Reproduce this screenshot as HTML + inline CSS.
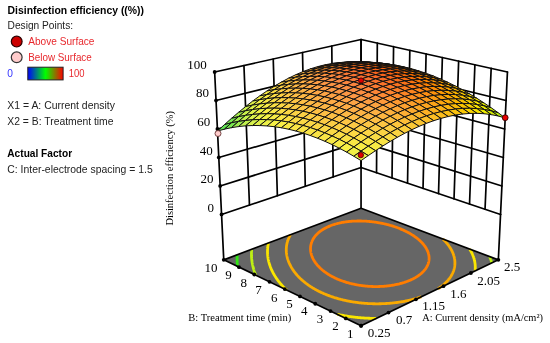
<!DOCTYPE html>
<html><head><meta charset="utf-8"><style>html,body{margin:0;padding:0;background:#fff;}svg{display:block;}</style></head>
<body><svg width="550" height="343" viewBox="0 0 550 343">
<rect width="550" height="343" fill="#fff"/>
<g stroke="#000" stroke-width="1.7" fill="none" stroke-linecap="round" stroke-linejoin="round"><line x1="221.55" y1="214.46" x2="214.65" y2="71.99"/><line x1="249.46" y1="205.06" x2="243.94" y2="65.49"/><line x1="277.37" y1="195.67" x2="273.23" y2="58.99"/><line x1="305.27" y1="186.27" x2="302.51" y2="52.49"/><line x1="333.16" y1="176.88" x2="331.78" y2="45.98"/><line x1="361.05" y1="167.48" x2="361.05" y2="39.48"/><line x1="500.54" y1="214.46" x2="507.44" y2="71.99"/><line x1="485.03" y1="209.24" x2="491.17" y2="68.38"/><line x1="469.53" y1="204.02" x2="474.90" y2="64.77"/><line x1="454.03" y1="198.80" x2="458.63" y2="61.16"/><line x1="438.53" y1="193.58" x2="442.36" y2="57.54"/><line x1="423.03" y1="188.36" x2="426.09" y2="53.93"/><line x1="407.53" y1="183.14" x2="409.83" y2="50.32"/><line x1="392.03" y1="177.92" x2="393.57" y2="46.70"/><line x1="376.54" y1="172.70" x2="377.31" y2="43.09"/><line x1="361.05" y1="167.48" x2="361.05" y2="39.48"/><polyline points="221.55,214.46 361.05,167.48 500.54,214.46"/><polyline points="220.17,185.97 361.05,141.88 501.92,185.97"/><polyline points="218.79,157.47 361.05,116.28 503.30,157.47"/><polyline points="217.41,128.98 361.05,90.68 504.68,128.98"/><polyline points="216.03,100.49 361.05,65.08 506.06,100.49"/><polyline points="214.65,71.99 361.05,39.48 507.44,71.99"/><line x1="223.75" y1="259.83" x2="221.55" y2="214.46"/><line x1="361.05" y1="208.25" x2="361.05" y2="167.48"/><line x1="498.34" y1="259.83" x2="500.54" y2="214.46"/></g>
<polygon points="223.75,259.83 361.05,208.25 498.34,259.83 361.05,325.73" fill="#666666"/>
<g fill="none" stroke-width="2.8" stroke-linecap="butt"><polyline points="237.13,254.81 237.11,255.11 237.10,255.40 237.09,255.70 237.08,255.99 237.07,256.28 237.07,256.58 237.06,256.87 237.06,257.16 237.06,257.46 237.06,257.75 237.06,258.04 237.06,258.33 237.07,258.62 237.07,258.91 237.08,259.20 237.09,259.49 237.09,259.78 237.10,260.07 237.12,260.36 237.13,260.65 237.14,260.94 237.16,261.24 237.18,261.55 237.20,261.85 237.22,262.16 237.24,262.46 237.27,262.77 237.29,263.08 237.32,263.39 237.35,263.70 237.38,264.01 237.41,264.32 237.45,264.63 237.48,264.94 237.52,265.22 237.55,265.50 237.59,265.79 237.62,266.07 237.66,266.35 237.69,266.53" stroke="#32e614"/><polyline points="491.82,262.97 491.75,262.71 491.68,262.44 491.61,262.18 491.54,261.92 491.46,261.65 491.37,261.32 491.27,260.99 491.16,260.65 491.08,260.38 490.99,260.12 490.91,259.87 490.82,259.62 490.72,259.31 490.60,258.97 490.47,258.63 490.37,258.37 490.28,258.12 490.18,257.87 490.07,257.60 489.93,257.26 489.79,256.91 489.68,256.65 489.64,256.57" stroke="#bef014"/><polyline points="251.71,249.34 251.68,249.63 251.65,249.93 251.63,250.23 251.60,250.52 251.58,250.82 251.56,251.11 251.54,251.39 251.53,251.67 251.51,251.95 251.50,252.23 251.49,252.52 251.48,252.80 251.47,253.09 251.47,253.37 251.46,253.66 251.46,253.95 251.46,254.24 251.46,254.53 251.46,254.82 251.47,255.11 251.47,255.40 251.48,255.70 251.49,255.99 251.50,256.29 251.51,256.58 251.53,256.88 251.54,257.18 251.56,257.48 251.58,257.76 251.60,258.05 251.62,258.33 251.65,258.61 251.67,258.89 251.70,259.18 251.73,259.46 251.76,259.74 251.79,260.02 251.82,260.30 251.86,260.58 251.89,260.86 251.93,261.17 251.98,261.48 252.02,261.80 252.07,262.12 252.12,262.43 252.17,262.75 252.23,263.07 252.28,263.36 252.33,263.63 252.38,263.91 252.43,264.18 252.49,264.46 252.54,264.73 252.60,265.02 252.68,265.35 252.75,265.69 252.82,266.02 252.90,266.35 252.97,266.64 253.04,266.91 253.11,267.18 253.17,267.45 253.24,267.72 253.33,268.04 253.42,268.38 253.52,268.73 253.62,269.06 253.69,269.33 253.77,269.60 253.86,269.87 253.94,270.13 254.04,270.47 254.16,270.83 254.27,271.18 254.37,271.46 254.46,271.72 254.55,271.99 254.64,272.26 254.77,272.62 254.90,272.98 255.02,273.30 255.12,273.56 255.22,273.82 255.32,274.09 255.47,274.46 255.62,274.83 255.74,275.13 255.77,275.21" stroke="#bef014"/><polyline points="337.14,314.26 337.91,314.43 338.39,314.53 339.35,314.74 339.83,314.84 340.74,315.02 341.30,315.13 341.88,315.24 342.78,315.41 343.28,315.50 344.08,315.64 344.80,315.77 345.30,315.86 346.18,316.00 346.85,316.11 347.37,316.19 348.21,316.32 348.94,316.43 349.47,316.51 350.17,316.61 351.07,316.73 351.61,316.80 352.15,316.87 352.99,316.98 353.79,317.07 354.35,317.14 354.90,317.20 355.70,317.29 356.58,317.38 357.16,317.44 357.73,317.50 358.30,317.55 359.15,317.63 359.99,317.70 360.62,317.75 361.21,317.80 361.80,317.84 362.45,317.89 363.26,317.95 364.06,318.00 364.81,318.04 365.42,318.08 366.04,318.11 366.65,318.14 367.28,318.17 367.93,318.20 368.69,318.23 369.43,318.26 370.18,318.28 370.91,318.30 371.64,318.32 372.37,318.33 373.05,318.35 373.71,318.36 374.37,318.36 375.04,318.37 375.72,318.37 376.39,318.37 376.39,318.37" stroke="#fae600"/><polyline points="475.04,271.03 475.08,270.71 475.11,270.39 475.14,270.08 475.17,269.76 475.20,269.45 475.22,269.14 475.23,268.84 475.25,268.53 475.26,268.23 475.27,267.93 475.27,267.63 475.27,267.33 475.27,267.03 475.27,266.74 475.26,266.44 475.25,266.15 475.24,265.86 475.22,265.57 475.20,265.28 475.18,265.00 475.16,264.71 475.13,264.43 475.10,264.15 475.07,263.86 475.03,263.59 475.00,263.30 474.95,262.99 474.91,262.67 474.85,262.36 474.80,262.05 474.74,261.73 474.68,261.41 474.62,261.13 474.57,260.86 474.51,260.59 474.45,260.33 474.38,260.07 474.32,259.80 474.23,259.48 474.15,259.15 474.06,258.83 473.96,258.51 473.89,258.25 473.81,257.99 473.73,257.74 473.64,257.49 473.54,257.17 473.42,256.84 473.30,256.50 473.21,256.24 473.11,255.99 473.02,255.74 472.92,255.48 472.78,255.14 472.64,254.79 472.52,254.52 472.42,254.28 472.31,254.04 472.18,253.75 472.02,253.40 471.87,253.09 471.76,252.85 471.64,252.61 471.51,252.34 471.33,251.99 471.17,251.68 471.05,251.45 470.92,251.22 470.76,250.91 470.55,250.55 470.42,250.30 470.28,250.07 470.13,249.81 469.91,249.44 469.75,249.17 469.69,249.07" stroke="#fae600"/><polyline points="268.49,243.03 268.42,243.34 268.36,243.62 268.31,243.88 268.25,244.14 268.20,244.40 268.15,244.66 268.10,244.92 268.06,245.18 268.01,245.48 267.96,245.78 267.91,246.08 267.87,246.38 267.83,246.68 267.79,246.98 267.76,247.28 267.72,247.57 267.69,247.86 267.67,248.14 267.64,248.41 267.62,248.69 267.60,248.96 267.58,249.24 267.57,249.52 267.55,249.80 267.54,250.08 267.53,250.36 267.52,250.65 267.51,250.93 267.51,251.22 267.51,251.50 267.51,251.79 267.51,252.08 267.51,252.37 267.52,252.66 267.53,252.95 267.54,253.25 267.55,253.54 267.57,253.84 267.58,254.13 267.60,254.43 267.63,254.73 267.65,255.03 267.68,255.33 267.70,255.63 267.73,255.90 267.76,256.18 267.80,256.46 267.83,256.74 267.87,257.01 267.90,257.29 267.94,257.57 267.99,257.84 268.03,258.11 268.08,258.43 268.14,258.74 268.19,259.06 268.25,259.38 268.32,259.70 268.38,260.02 268.44,260.29 268.50,260.56 268.56,260.83 268.62,261.10 268.68,261.37 268.76,261.67 268.84,262.00 268.93,262.33 269.02,262.67 269.10,262.97 269.17,263.23 269.25,263.50 269.33,263.76 269.41,264.03 269.52,264.38 269.63,264.72 269.74,265.07 269.83,265.33 269.92,265.59 270.01,265.85 270.11,266.13 270.24,266.49 270.37,266.85 270.48,267.15 270.58,267.40 270.68,267.66 270.79,267.94 270.94,268.30 271.10,268.67 271.21,268.94 271.32,269.19 271.43,269.45 271.59,269.80 271.76,270.18 271.89,270.46 272.01,270.71 272.13,270.96 272.31,271.33 272.50,271.71 272.62,271.96 272.75,272.21 272.91,272.51 273.12,272.91 273.27,273.20 273.40,273.44 273.56,273.72 273.79,274.13 273.95,274.42 274.09,274.67 274.26,274.96 274.51,275.38 274.67,275.64 274.82,275.88 275.03,276.23 275.27,276.60 275.42,276.84 275.58,277.09 275.87,277.53 276.05,277.80 276.21,278.04 276.47,278.42 276.70,278.75 276.86,278.98 277.11,279.33 277.36,279.69 277.54,279.92 277.79,280.27 278.06,280.62 278.23,280.85 278.51,281.22 278.77,281.55 278.95,281.78 279.28,282.20 279.50,282.47 279.69,282.70 280.06,283.15 280.25,283.38 280.54,283.72 280.83,284.06 281.03,284.28 281.43,284.73 281.63,284.95 281.95,285.31 282.24,285.62 282.46,285.86 282.86,286.28 283.06,286.50 283.49,286.94 283.70,287.16 284.11,287.58 284.35,287.82 284.71,288.17 285.01,288.46 285.34,288.79 285.68,289.11 286.01,289.41 286.37,289.75 286.71,290.06 286.71,290.06" stroke="#fae600"/><polyline points="290.49,234.77 290.31,235.07 290.18,235.29 290.05,235.51 289.88,235.83 289.69,236.17 289.57,236.41 289.45,236.64 289.33,236.87 289.17,237.20 289.01,237.54 288.89,237.79 288.79,238.02 288.69,238.26 288.56,238.55 288.42,238.88 288.29,239.20 288.20,239.44 288.11,239.68 288.02,239.92 287.92,240.18 287.81,240.51 287.71,240.83 287.60,241.14 287.53,241.39 287.45,241.64 287.38,241.89 287.31,242.14 287.24,242.41 287.16,242.72 287.08,243.03 287.01,243.34 286.94,243.65 286.88,243.92 286.83,244.18 286.78,244.44 286.73,244.70 286.68,244.96 286.64,245.23 286.60,245.49 286.56,245.77 286.52,246.07 286.48,246.37 286.45,246.67 286.42,246.96 286.39,247.26 286.37,247.55 286.35,247.84 286.33,248.14 286.31,248.43 286.30,248.72 286.29,249.01 286.29,249.29 286.28,249.58 286.28,249.87 286.28,250.15 286.29,250.44 286.30,250.72 286.31,251.00 286.32,251.28 286.34,251.56 286.35,251.84 286.37,252.12 286.40,252.40 286.42,252.68 286.45,252.96 286.48,253.23 286.51,253.51 286.55,253.78 286.59,254.07 286.64,254.38 286.68,254.69 286.74,255.00 286.79,255.32 286.85,255.63 286.91,255.95 286.97,256.22 287.03,256.49 287.09,256.75 287.15,257.02 287.22,257.28 287.29,257.57 287.37,257.90 287.47,258.23 287.56,258.57 287.64,258.86 287.72,259.12 287.80,259.38 287.89,259.64 287.98,259.93 288.10,260.27 288.22,260.62 288.33,260.92 288.42,261.18 288.52,261.43 288.62,261.69 288.76,262.04 288.91,262.40 289.03,262.70 289.14,262.95 289.25,263.20 289.38,263.50 289.55,263.87 289.70,264.19 289.82,264.44 289.94,264.68 290.10,265.01 290.30,265.39 290.44,265.66 290.57,265.91 290.71,266.17 290.93,266.57 291.10,266.88 291.24,267.12 291.39,267.37 291.63,267.78 291.81,268.07 291.95,268.31 292.14,268.61 292.40,269.02 292.55,269.26 292.71,269.49 292.97,269.88 293.18,270.19 293.34,270.42 293.58,270.76 293.84,271.12 294.00,271.35 294.23,271.66 294.52,272.04 294.69,272.26 294.94,272.58 295.22,272.94 295.40,273.17 295.70,273.54 295.95,273.84 296.14,274.07 296.52,274.51 296.71,274.73 296.97,275.03 297.30,275.39 297.49,275.61 297.89,276.05 298.10,276.27 298.42,276.60 298.72,276.92 298.94,277.15 299.35,277.56 299.56,277.77 300.00,278.20 300.21,278.41 300.66,278.83 300.88,279.04 301.33,279.46 301.56,279.66 302.02,280.08 302.25,280.28 302.72,280.70 302.96,280.90 303.44,281.31 303.68,281.51 304.17,281.91 304.47,282.15 304.92,282.51 305.41,282.89 305.68,283.11 306.20,283.50 306.46,283.69 306.98,284.08 307.51,284.47 307.78,284.66 308.32,285.04 308.87,285.43 309.15,285.61 309.70,285.99 310.27,286.36 310.55,286.55 311.12,286.92 311.71,287.29 312.26,287.63 312.59,287.83 313.18,288.19 313.79,288.55 314.40,288.90 314.77,289.11 315.33,289.43 315.95,289.77 316.59,290.12 317.23,290.46 317.88,290.80 318.53,291.13 319.19,291.46 319.86,291.79 320.54,292.12 321.22,292.44 321.91,292.76 322.61,293.08 323.32,293.39 324.03,293.70 324.75,294.01 325.48,294.31 326.21,294.61 326.95,294.91 327.70,295.20 328.13,295.36 328.85,295.63 329.62,295.92 330.39,296.20 331.16,296.47 331.57,296.61 332.37,296.88 333.18,297.15 333.59,297.28 334.40,297.55 335.23,297.80 335.65,297.93 336.49,298.18 337.34,298.43 337.77,298.55 338.63,298.79 339.11,298.93 339.94,299.15 340.67,299.34 341.27,299.49 342.14,299.71 342.62,299.83 343.53,300.04 344.00,300.15 344.86,300.35 345.40,300.46 346.14,300.62 346.82,300.77 347.36,300.88 348.26,301.06 348.75,301.15 349.70,301.33 350.22,301.43 350.81,301.53 351.72,301.69 352.23,301.78 352.95,301.89 353.76,302.02 354.28,302.10 355.00,302.21 355.85,302.33 356.38,302.40 356.95,302.48 357.90,302.60 358.53,302.68 359.08,302.75 359.75,302.82 360.65,302.92 361.30,302.99 361.86,303.05 362.43,303.10 363.27,303.18 364.11,303.25 364.74,303.30 365.32,303.35 365.91,303.39 366.59,303.44 367.39,303.49 368.18,303.54 368.93,303.58 369.54,303.61 370.17,303.64 370.79,303.66 371.42,303.69 372.06,303.71 372.75,303.73 373.49,303.75 374.21,303.76 374.93,303.77 375.64,303.78 376.35,303.78 377.04,303.79 377.74,303.78 378.42,303.78 379.10,303.77 379.77,303.76 380.44,303.75 381.11,303.73 381.76,303.71 382.41,303.69 383.06,303.67 383.72,303.64 384.47,303.60 385.22,303.56 385.99,303.52 386.76,303.48 387.44,303.43 388.05,303.39 388.66,303.34 389.25,303.30 389.95,303.24 390.77,303.17 391.60,303.09 392.19,303.03 392.76,302.97 393.33,302.91 394.18,302.82 395.02,302.72 395.58,302.65 396.13,302.58 396.89,302.49 397.77,302.37 398.31,302.29 398.84,302.21 399.75,302.08 400.43,301.97 400.95,301.89 401.76,301.75 402.49,301.63 403.00,301.54 403.87,301.38 404.51,301.26 405.01,301.16 405.99,300.97 406.48,300.87 407.28,300.70 407.93,300.56 408.49,300.44 409.35,300.24 409.82,300.13 410.75,299.91 411.21,299.80 412.12,299.57 412.57,299.45 413.47,299.22 413.95,299.09 414.80,298.85 415.54,298.64 416.10,298.48 416.95,298.22 417.38,298.09 418.22,297.83 419.05,297.57 419.46,297.43 420.28,297.16 421.08,296.88 421.43,296.76" stroke="#faaa00"/><polyline points="437.99,288.81 438.53,288.46 439.10,288.07 439.59,287.73 439.93,287.50 440.47,287.11 440.87,286.81 441.27,286.52 441.78,286.12 442.04,285.92 442.55,285.51 442.90,285.22 443.29,284.90 443.74,284.51 444.01,284.28 444.48,283.86 444.71,283.65 445.17,283.22 445.39,283.01 445.81,282.60 446.05,282.37 446.38,282.02 446.68,281.71 446.92,281.46 447.30,281.05 447.50,280.83 447.88,280.39 448.09,280.15 448.32,279.88 448.65,279.47 448.84,279.24 449.11,278.89 449.37,278.55 449.55,278.32 449.81,277.95 450.05,277.62 450.22,277.38 450.44,277.05 450.69,276.67 450.84,276.43 451.00,276.18 451.26,275.75 451.43,275.46 451.57,275.21 451.73,274.92 451.95,274.52 452.11,274.22 452.23,273.97 452.36,273.72 452.55,273.33 452.72,272.96 452.83,272.71 452.94,272.45 453.05,272.19 453.20,271.82 453.34,271.46 453.45,271.16 453.55,270.90 453.64,270.64 453.72,270.37 453.83,270.03 453.94,269.68 454.04,269.33 454.12,269.04 454.19,268.77 454.26,268.50 454.32,268.23 454.38,267.95 454.44,267.65 454.51,267.33 454.57,267.00 454.62,266.68 454.67,266.36 454.71,266.04 454.75,265.73 454.78,265.44 454.81,265.16 454.84,264.87 454.86,264.59 454.88,264.30 454.89,264.01 454.90,263.72 454.91,263.43 454.91,263.13 454.91,262.84 454.91,262.54 454.90,262.25 454.89,261.95 454.88,261.65 454.86,261.35 454.84,261.05 454.81,260.74 454.78,260.44 454.75,260.13 454.71,259.86 454.68,259.58 454.64,259.31 454.59,259.04 454.55,258.77 454.50,258.50 454.45,258.23 454.39,257.95 454.32,257.63 454.25,257.31 454.17,256.99 454.09,256.67 454.02,256.39 453.95,256.13 453.87,255.87 453.80,255.62 453.72,255.36 453.61,255.03 453.50,254.70 453.39,254.37 453.29,254.11 453.20,253.86 453.11,253.62 453.01,253.36 452.87,253.01 452.73,252.67 452.61,252.40 452.50,252.16 452.40,251.92 452.26,251.63 452.09,251.28 451.95,250.98 451.83,250.74 451.71,250.51 451.56,250.21 451.37,249.85 451.22,249.59 451.09,249.36 450.96,249.13 450.75,248.76 450.56,248.45 450.43,248.23 450.29,248.00 450.06,247.64 449.87,247.34 449.72,247.12 449.57,246.89 449.31,246.50 449.13,246.25 448.98,246.03 448.77,245.73 448.52,245.39 448.36,245.17 448.19,244.94 447.88,244.54 447.71,244.33 447.55,244.12 447.24,243.74 447.05,243.49 446.88,243.29 446.56,242.92 446.36,242.67 446.18,242.47 445.84,242.08 445.64,241.86 445.46,241.65 445.10,241.26 444.91,241.06 444.66,240.79 444.35,240.47 444.16,240.27 443.80,239.91 443.58,239.69 443.35,239.46 442.99,239.11 442.88,239.00" stroke="#faaa00"/><polyline points="334.62,224.32 333.87,224.55 333.13,224.79 332.40,225.04 331.69,225.29 330.99,225.55 330.31,225.81 329.64,226.08 328.98,226.35 328.33,226.63 327.70,226.91 327.09,227.20 326.77,227.35 326.17,227.64 325.58,227.95 325.00,228.25 324.72,228.41 324.16,228.72 323.61,229.04 323.34,229.20 322.81,229.53 322.32,229.83 322.03,230.02 321.53,230.36 321.28,230.53 320.79,230.88 320.53,231.06 320.08,231.40 319.80,231.62 319.39,231.94 319.14,232.15 318.73,232.49 318.52,232.67 318.09,233.05 317.89,233.24 317.49,233.60 317.28,233.81 317.03,234.06 316.70,234.39 316.51,234.59 316.19,234.93 315.96,235.19 315.78,235.39 315.46,235.76 315.27,236.00 315.10,236.21 314.82,236.57 314.61,236.84 314.46,237.05 314.25,237.34 314.01,237.69 313.86,237.91 313.72,238.12 313.51,238.46 313.31,238.79 313.18,239.01 313.05,239.23 312.88,239.54 312.70,239.89 312.57,240.14 312.46,240.38 312.34,240.61 312.20,240.92 312.05,241.26 311.93,241.55 311.84,241.79 311.74,242.03 311.66,242.28 311.55,242.58 311.44,242.90 311.34,243.22 311.26,243.51 311.19,243.76 311.12,244.02 311.06,244.27 311.00,244.53 310.94,244.79 310.87,245.10 310.82,245.40 310.77,245.71 310.72,246.01 310.68,246.31 310.64,246.60 310.61,246.90 310.59,247.18 310.57,247.46 310.55,247.74 310.54,248.01 310.53,248.30 310.53,248.58 310.52,248.86 310.53,249.15 310.54,249.44 310.55,249.73 310.57,250.02 310.59,250.32 310.61,250.60 310.64,250.88 310.67,251.15 310.71,251.42 310.75,251.69 310.79,251.96 310.83,252.23 310.88,252.50 310.94,252.77 311.00,253.08 311.08,253.40 311.15,253.72 311.24,254.05 311.32,254.34 311.39,254.60 311.47,254.86 311.55,255.11 311.64,255.38 311.75,255.72 311.88,256.06 312.00,256.38 312.09,256.63 312.19,256.88 312.30,257.13 312.44,257.47 312.61,257.83 312.73,258.11 312.85,258.36 312.97,258.60 313.14,258.95 313.34,259.32 313.47,259.56 313.60,259.80 313.77,260.10 314.00,260.49 314.15,260.74 314.30,260.98 314.50,261.30 314.74,261.67 314.89,261.90 315.05,262.13 315.34,262.55 315.53,262.82 315.69,263.04 315.98,263.42 316.20,263.71 316.38,263.94 316.69,264.33 316.91,264.60 317.09,264.82 317.47,265.26 317.65,265.47 317.91,265.76 318.24,266.12 318.43,266.33 318.84,266.76 319.04,266.97 319.37,267.30 319.67,267.60 319.92,267.84 320.31,268.22 320.53,268.42 320.98,268.83 321.20,269.03 321.66,269.44 321.89,269.64 322.37,270.03 322.61,270.24 323.09,270.63 323.45,270.91 323.83,271.21 324.33,271.59 324.59,271.78 325.11,272.16 325.44,272.40 325.90,272.73 326.44,273.10 326.71,273.28 327.26,273.65 327.82,274.01 328.16,274.23 328.68,274.55 329.26,274.90 329.85,275.25 330.15,275.43 330.75,275.77 331.36,276.11 331.99,276.45 332.62,276.78 333.25,277.11 333.58,277.27 334.23,277.60 334.89,277.92 335.56,278.23 336.24,278.55 336.93,278.85 337.63,279.16 338.34,279.46 339.06,279.75 339.42,279.90 340.16,280.19 340.90,280.47 341.66,280.75 342.42,281.03 343.20,281.30 343.59,281.43 344.38,281.69 345.18,281.95 345.68,282.11 346.40,282.33 347.23,282.58 347.69,282.71 348.50,282.94 349.36,283.17 349.79,283.28 350.67,283.51 351.12,283.62 352.01,283.83 352.47,283.94 353.39,284.14 353.85,284.24 354.79,284.44 355.26,284.54 356.22,284.72 356.71,284.81 357.45,284.95 358.18,285.07 358.69,285.16 359.62,285.31 360.21,285.40 360.73,285.47 361.65,285.60 362.31,285.69 362.84,285.75 363.57,285.84 364.48,285.94 365.03,286.00 365.59,286.06 366.26,286.12 367.11,286.19 367.89,286.25 368.48,286.30 369.07,286.34 369.67,286.37 370.37,286.41 371.15,286.45 371.91,286.48 372.66,286.51 373.40,286.53 374.06,286.54 374.72,286.55 375.38,286.56 376.06,286.56 376.74,286.56 377.43,286.55 378.14,286.54 378.85,286.52 379.57,286.50 380.24,286.47 380.88,286.45 381.50,286.42 382.13,286.38 382.74,286.34 383.38,286.30 384.19,286.24 385.01,286.17 385.71,286.11 386.28,286.05 386.85,286.00 387.59,285.92 388.49,285.81 389.07,285.74 389.61,285.67 390.37,285.56 391.21,285.44 391.73,285.36 392.38,285.25 393.26,285.11 393.76,285.02 394.56,284.87 395.24,284.74 395.72,284.64 396.68,284.44 397.15,284.34 398.07,284.13 398.53,284.02 399.44,283.80 399.88,283.68 400.77,283.45 401.27,283.32 402.06,283.09 402.90,282.84 403.32,282.72 404.14,282.46 404.95,282.19 405.35,282.06 406.13,281.78 406.90,281.50 407.66,281.22 408.41,280.93 408.78,280.78 409.50,280.48 410.21,280.17 410.91,279.86 411.60,279.54 412.27,279.22 412.94,278.89 413.58,278.56 413.90,278.39 414.53,278.05 415.15,277.71 415.75,277.35 416.34,277.00 416.63,276.82 417.21,276.45 417.77,276.08 418.09,275.87 418.59,275.52 419.11,275.14 419.37,274.95 419.89,274.56 420.25,274.27 420.63,273.96 421.08,273.59 421.34,273.36 421.79,272.96 422.03,272.74 422.43,272.37 422.68,272.12 422.99,271.81 423.31,271.48 423.52,271.26 423.91,270.83 424.10,270.61 424.40,270.27 424.66,269.94 424.84,269.72 425.15,269.32 425.36,269.04 425.53,268.81 425.79,268.44 426.01,268.11 426.16,267.88 426.34,267.59 426.59,267.18 426.74,266.93 426.87,266.69 427.03,266.38 427.23,266.00 427.38,265.71 427.49,265.46 427.60,265.21 427.75,264.88 427.90,264.51 428.02,264.20 428.11,263.94 428.20,263.68 428.29,263.42 428.38,263.11 428.48,262.78 428.57,262.44 428.65,262.11 428.72,261.83 428.77,261.56 428.83,261.29 428.87,261.02 428.92,260.74 428.96,260.46 428.99,260.19 429.02,259.89 429.05,259.59 429.07,259.29 429.09,258.99 429.10,258.69 429.10,258.40 429.10,258.11 429.09,257.82 429.08,257.53 429.07,257.25 429.05,256.97 429.03,256.69 429.00,256.41 428.96,256.10 428.92,255.79 428.87,255.49 428.82,255.18 428.76,254.86 428.69,254.55 428.63,254.26 428.56,254.00 428.50,253.74 428.43,253.49 428.36,253.23 428.27,252.94 428.16,252.61 428.05,252.28 427.94,251.98 427.85,251.73 427.75,251.48 427.65,251.24 427.52,250.92 427.37,250.58 427.23,250.28 427.12,250.05 427.01,249.81 426.86,249.52 426.68,249.16 426.52,248.88 426.40,248.65 426.27,248.42 426.06,248.07 425.86,247.75 425.72,247.52 425.58,247.30 425.34,246.94 425.14,246.64 424.99,246.42 424.80,246.16 424.53,245.78 424.37,245.56 424.20,245.35 423.90,244.96 423.71,244.72 423.54,244.51 423.22,244.13 423.02,243.89 422.84,243.69 422.48,243.28 422.29,243.08 422.08,242.84 421.73,242.48 421.54,242.28 421.21,241.95 420.95,241.69 420.75,241.49 420.35,241.11 420.15,240.91 419.74,240.54 419.52,240.34 419.19,240.05 418.88,239.78 418.62,239.55 418.23,239.22 418.00,239.03 417.56,238.67 417.33,238.49 416.87,238.13 416.64,237.95 416.17,237.59 415.89,237.39 415.45,237.07 415.08,236.80 414.72,236.54 414.23,236.20 413.97,236.03 413.47,235.69 413.21,235.52 412.70,235.19 412.17,234.86 411.91,234.69 411.38,234.36 410.96,234.11 410.56,233.88 410.01,233.56 409.58,233.31 409.18,233.08 408.61,232.77 408.04,232.46 407.75,232.31 407.17,232.00 406.58,231.70 405.98,231.40 405.68,231.25 405.07,230.96 404.46,230.67 403.84,230.38 403.21,230.09 402.66,229.85 402.25,229.67 401.61,229.39 400.95,229.11 400.29,228.84 399.62,228.57 398.95,228.31 398.27,228.04 397.57,227.78 396.88,227.53 396.17,227.27 395.45,227.02 394.73,226.78 394.00,226.53 393.63,226.41 392.89,226.17 392.13,225.94 391.37,225.71 390.60,225.48 390.21,225.37 389.42,225.15 388.63,224.93 387.82,224.71 387.42,224.61 386.60,224.40 385.77,224.19 385.35,224.09 384.50,223.90 383.89,223.76 383.21,223.61 382.33,223.42 381.89,223.33 380.99,223.15 380.54,223.06 379.63,222.89 379.16,222.80 378.23,222.64 377.75,222.56 376.91,222.42 376.31,222.33 375.75,222.24 374.83,222.11 374.33,222.04 373.57,221.94 372.80,221.84 372.28,221.78 371.55,221.70 370.69,221.60 370.15,221.55 369.61,221.50 368.75,221.42 367.94,221.35 367.37,221.31 366.79,221.26 366.17,221.22 365.35,221.17 364.56,221.13 363.81,221.10 363.19,221.07 362.56,221.05 361.92,221.03 361.27,221.02 360.61,221.01 359.94,221.00 359.26,221.00 358.57,221.00 357.87,221.00 357.15,221.02 356.42,221.03 355.67,221.05 354.91,221.08 354.23,221.11 353.63,221.14 353.04,221.18 352.45,221.21 351.65,221.27 350.78,221.34 350.18,221.39 349.63,221.44 348.95,221.51 348.03,221.61 347.51,221.67 346.96,221.74 345.98,221.87 345.48,221.94 344.77,222.05 344.02,222.17 343.54,222.24 342.61,222.41 342.15,222.49 341.24,222.67 340.79,222.76 339.91,222.94 339.23,223.10 338.63,223.24 337.80,223.44 337.31,223.56 336.58,223.76 335.78,223.98 335.01,224.20 334.62,224.32 334.62,224.32" stroke="#ff7d00"/></g>
<polygon points="223.75,259.83 361.05,208.25 498.34,259.83 361.05,325.73" fill="none" stroke="#000" stroke-width="1.7" stroke-linejoin="round"/>
<g fill="#000"><circle cx="361.05" cy="325.73" r="1.9"/><circle cx="345.79" cy="318.41" r="1.9"/><circle cx="330.52" cy="311.09" r="1.9"/><circle cx="315.27" cy="303.77" r="1.9"/><circle cx="300.01" cy="296.44" r="1.9"/><circle cx="284.75" cy="289.12" r="1.9"/><circle cx="269.50" cy="281.80" r="1.9"/><circle cx="254.25" cy="274.48" r="1.9"/><circle cx="239.00" cy="267.16" r="1.9"/><circle cx="223.75" cy="259.83" r="1.9"/><circle cx="361.05" cy="325.73" r="1.9"/><circle cx="388.52" cy="312.55" r="1.9"/><circle cx="415.98" cy="299.37" r="1.9"/><circle cx="443.44" cy="286.19" r="1.9"/><circle cx="470.90" cy="273.01" r="1.9"/><circle cx="498.34" cy="259.83" r="1.9"/><circle cx="221.55" cy="214.46" r="1.9"/><circle cx="220.17" cy="185.97" r="1.9"/><circle cx="218.79" cy="157.47" r="1.9"/><circle cx="217.41" cy="128.98" r="1.9"/><circle cx="216.03" cy="100.49" r="1.9"/><circle cx="214.65" cy="71.99" r="1.9"/></g>
<g stroke="#111" stroke-width="1" stroke-linejoin="round"><polygon points="361.05,62.07 368.31,62.77 361.05,62.92 353.79,62.31" fill="#fab800"/><polygon points="353.78,61.88 361.05,62.07 353.79,62.31 346.52,62.21" fill="#fbaa01"/><polygon points="368.32,62.17 375.57,62.96 368.31,62.77 361.05,62.07" fill="#fbac00"/><polygon points="346.50,62.20 353.78,61.88 346.52,62.21 339.24,62.61" fill="#fca40b"/><polygon points="361.05,61.90 368.32,62.17 361.05,62.07 353.78,61.88" fill="#fc9e00"/><polygon points="375.59,62.62 382.85,63.49 375.57,62.96 368.32,62.17" fill="#fba300"/><polygon points="339.22,63.00 346.50,62.20 339.24,62.61 331.97,63.50" fill="#fca014"/><polygon points="353.77,62.13 361.05,61.90 353.78,61.88 346.50,62.20" fill="#fc9608"/><polygon points="368.33,62.26 375.59,62.62 368.32,62.17 361.05,61.90" fill="#fc9400"/><polygon points="382.88,63.40 390.12,64.35 382.85,63.49 375.59,62.62" fill="#fc9c00"/><polygon points="346.48,62.85 353.77,62.13 346.50,62.20 339.22,63.00" fill="#fd9312"/><polygon points="361.05,62.41 368.33,62.26 361.05,61.90 353.77,62.13" fill="#fd8b06"/><polygon points="375.61,62.96 382.88,63.40 375.59,62.62 368.33,62.26" fill="#fd8d00"/><polygon points="331.93,64.28 339.22,63.00 331.97,63.50 324.69,64.86" fill="#fca11e"/><polygon points="390.16,64.50 397.40,65.54 390.12,64.35 382.88,63.40" fill="#fc9800"/><polygon points="353.76,63.05 361.05,62.41 353.77,62.13 346.48,62.85" fill="#fc8610"/><polygon points="368.33,63.03 375.61,62.96 368.33,62.26 361.05,62.41" fill="#fc8104"/><polygon points="324.65,66.02 331.93,64.28 324.69,64.86 317.42,66.69" fill="#fca427"/><polygon points="339.20,64.05 346.48,62.85 339.22,63.00 331.93,64.28" fill="#fd931c"/><polygon points="382.90,63.99 390.16,64.50 382.88,63.40 375.61,62.96" fill="#fd8700"/><polygon points="397.44,65.93 404.67,67.04 397.40,65.54 390.16,64.50" fill="#fc9500"/><polygon points="317.38,68.20 324.65,66.02 317.42,66.69 310.15,68.95" fill="#fda930"/><polygon points="331.91,65.71 339.20,64.05 331.93,64.28 324.65,66.02" fill="#fc9625"/><polygon points="346.47,64.17 353.76,63.05 346.48,62.85 339.20,64.05" fill="#fb861a"/><polygon points="361.05,63.59 368.33,63.03 361.05,62.41 353.76,63.05" fill="#fb7b0d"/><polygon points="375.63,63.98 382.90,63.99 375.61,62.96 368.33,63.03" fill="#fb7901"/><polygon points="390.19,65.35 397.44,65.93 390.16,64.50 382.90,63.99" fill="#fc8300"/><polygon points="404.72,67.68 411.94,68.86 404.67,67.04 397.44,65.93" fill="#fc9400"/><polygon points="310.12,70.81 317.38,68.20 310.15,68.95 302.90,71.65" fill="#fdaf38"/><polygon points="324.63,67.81 331.91,65.71 324.65,66.02 317.38,68.20" fill="#fd9b2e"/><polygon points="339.18,65.75 346.47,64.17 339.20,64.05 331.91,65.71" fill="#fc8823"/><polygon points="353.76,64.63 361.05,63.59 353.76,63.05 346.47,64.17" fill="#fb7a17"/><polygon points="368.34,64.47 375.63,63.98 368.33,63.03 361.05,63.59" fill="#fb730b"/><polygon points="382.92,65.26 390.19,65.35 382.90,63.99 375.63,63.98" fill="#fb7300"/><polygon points="397.48,67.02 404.72,67.68 397.44,65.93 390.19,65.35" fill="#fc8200"/><polygon points="412.00,69.74 419.21,70.99 411.94,68.86 404.72,67.68" fill="#fc9600"/><polygon points="302.87,73.84 310.12,70.81 302.90,71.65 295.67,74.76" fill="#fdb83f"/><polygon points="317.36,70.34 324.63,67.81 317.38,68.20 310.12,70.81" fill="#fda236"/><polygon points="331.89,67.77 339.18,65.75 331.91,65.71 324.63,67.81" fill="#fc8d2c"/><polygon points="346.46,66.13 353.76,64.63 346.47,64.17 339.18,65.75" fill="#fb7c21"/><polygon points="361.05,65.43 368.34,64.47 361.05,63.59 353.76,64.63" fill="#fa7115"/><polygon points="375.64,65.68 382.92,65.26 375.63,63.98 368.34,64.47" fill="#fa6d09"/><polygon points="390.21,66.87 397.48,67.02 390.19,65.35 382.92,65.26" fill="#fb7100"/><polygon points="404.76,69.00 412.00,69.74 404.72,67.68 397.48,67.02" fill="#fc8300"/><polygon points="419.26,72.10 426.46,73.42 419.21,70.99 412.00,69.74" fill="#fc9900"/><polygon points="310.09,73.28 317.36,70.34 310.12,70.81 302.87,73.84" fill="#fdab3e"/><polygon points="324.61,70.22 331.89,67.77 324.63,67.81 317.36,70.34" fill="#fd9434"/><polygon points="339.17,68.08 346.46,66.13 339.18,65.75 331.89,67.77" fill="#fb822a"/><polygon points="382.93,67.21 390.21,66.87 382.92,65.26 375.64,65.68" fill="#fa6807"/><polygon points="397.50,68.78 404.76,69.00 397.48,67.02 390.21,66.87" fill="#fb7100"/><polygon points="412.04,71.30 419.26,72.10 412.00,69.74 404.76,69.00" fill="#fd8600"/><polygon points="295.63,77.26 302.87,73.84 295.67,74.76 288.44,78.26" fill="#fcc045"/><polygon points="353.75,66.86 361.05,65.43 353.76,64.63 346.46,66.13" fill="#fa731f"/><polygon points="368.35,66.57 375.64,65.68 368.34,64.47 361.05,65.43" fill="#f96a13"/><polygon points="426.52,74.75 433.71,76.14 426.46,73.42 419.26,72.10" fill="#fc9e00"/><polygon points="317.34,73.08 324.61,70.22 317.36,70.34 310.09,73.28" fill="#fd9e3c"/><polygon points="331.88,70.45 339.17,68.08 331.89,67.77 324.61,70.22" fill="#fb8932"/><polygon points="390.23,69.05 397.50,68.78 390.21,66.87 382.93,67.21" fill="#fa6605"/><polygon points="404.79,71.01 412.04,71.30 404.76,69.00 397.50,68.78" fill="#fb7300"/><polygon points="288.41,81.05 295.63,77.26 288.44,78.26 281.24,82.14" fill="#fbc945"/><polygon points="302.84,76.62 310.09,73.28 302.87,73.84 295.63,77.26" fill="#fdb444"/><polygon points="346.45,68.73 353.75,66.86 346.46,66.13 339.17,68.08" fill="#fa7828"/><polygon points="361.05,67.92 368.35,66.57 361.05,65.43 353.75,66.86" fill="#fa6c1c"/><polygon points="375.64,68.03 382.93,67.21 375.64,65.68 368.35,66.57" fill="#f96511"/><polygon points="419.31,73.89 426.52,74.75 419.26,72.10 412.04,71.30" fill="#fd8b00"/><polygon points="433.77,77.70 440.94,79.16 433.71,76.14 426.52,74.75" fill="#fba400"/><polygon points="324.60,73.24 331.88,70.45 324.61,70.22 317.34,73.08" fill="#fc913a"/><polygon points="397.52,71.21 404.79,71.01 397.50,68.78 390.23,69.05" fill="#fa6704"/><polygon points="310.08,76.34 317.34,73.08 310.09,73.28 302.84,76.62" fill="#fea843"/><polygon points="339.16,71.03 346.45,68.73 339.17,68.08 331.88,70.45" fill="#fb7f30"/><polygon points="353.75,69.72 361.05,67.92 353.75,66.86 346.45,68.73" fill="#fa7026"/><polygon points="368.35,69.31 375.64,68.03 368.35,66.57 361.05,67.92" fill="#fa671a"/><polygon points="382.94,69.81 390.23,69.05 382.93,67.21 375.64,68.03" fill="#f9630f"/><polygon points="412.07,73.53 419.31,73.89 412.04,71.30 404.79,71.01" fill="#fb7800"/><polygon points="281.21,85.21 288.41,81.05 281.24,82.14 274.06,86.39" fill="#fbd245"/><polygon points="295.61,80.33 302.84,76.62 295.63,77.26 288.41,81.05" fill="#fcbc45"/><polygon points="426.57,76.77 433.77,77.70 426.52,74.75 419.31,73.89" fill="#fd9100"/><polygon points="441.00,80.93 448.16,82.45 440.94,79.16 433.77,77.70" fill="#fbad00"/><polygon points="274.03,89.71 281.21,85.21 274.06,86.39 266.90,90.97" fill="#fadd45"/><polygon points="288.39,84.41 295.61,80.33 288.41,81.05 281.21,85.21" fill="#fcc545"/><polygon points="302.83,79.98 310.08,76.34 302.84,76.62 295.61,80.33" fill="#fdb045"/><polygon points="317.33,76.42 324.60,73.24 317.34,73.08 310.08,76.34" fill="#fd9c41"/><polygon points="331.87,73.74 339.16,71.03 331.88,70.45 324.60,73.24" fill="#fb8838"/><polygon points="346.45,71.95 353.75,69.72 346.45,68.73 339.16,71.03" fill="#fa762e"/><polygon points="361.05,71.04 368.35,69.31 361.05,67.92 353.75,69.72" fill="#f96a24"/><polygon points="375.65,71.02 382.94,69.81 375.64,68.03 368.35,69.31" fill="#f96318"/><polygon points="390.24,71.90 397.52,71.21 390.23,69.05 382.94,69.81" fill="#f9620d"/><polygon points="404.81,73.67 412.07,73.53 404.79,71.01 397.52,71.21" fill="#fa6a02"/><polygon points="419.34,76.35 426.57,76.77 419.31,73.89 412.07,73.53" fill="#fc7f00"/><polygon points="433.81,79.94 441.00,80.93 433.77,77.70 426.57,76.77" fill="#fc9800"/><polygon points="448.22,84.44 455.36,86.02 448.16,82.45 441.00,80.93" fill="#fab600"/><polygon points="339.16,74.59 346.45,71.95 339.16,71.03 331.87,73.74" fill="#fa8036"/><polygon points="353.75,73.20 361.05,71.04 353.75,69.72 346.45,71.95" fill="#f9712c"/><polygon points="368.35,72.68 375.65,71.02 368.35,69.31 361.05,71.04" fill="#f96622"/><polygon points="382.95,73.05 390.24,71.90 382.94,69.81 375.65,71.02" fill="#f96216"/><polygon points="266.88,94.54 274.03,89.71 266.90,90.97 259.76,95.88" fill="#f8e945"/><polygon points="281.20,88.83 288.39,84.41 281.21,85.21 274.03,89.71" fill="#fbd045"/><polygon points="295.60,83.97 302.83,79.98 295.61,80.33 288.39,84.41" fill="#fdba45"/><polygon points="310.07,79.98 317.33,76.42 310.08,76.34 302.83,79.98" fill="#fea745"/><polygon points="324.59,76.85 331.87,73.74 324.60,73.24 317.33,76.42" fill="#fc9240"/><polygon points="397.53,74.30 404.81,73.67 397.52,71.21 390.24,71.90" fill="#f9640b"/><polygon points="412.09,76.43 419.34,76.35 412.07,73.53 404.81,73.67" fill="#fb6f00"/><polygon points="426.60,79.46 433.81,79.94 426.57,76.77 419.34,76.35" fill="#fd8700"/><polygon points="441.05,83.39 448.22,84.44 441.00,80.93 433.81,79.94" fill="#fca200"/><polygon points="455.42,88.21 462.54,89.85 455.36,86.02 448.22,84.44" fill="#f9c100"/><polygon points="274.02,93.57 281.20,88.83 274.03,89.71 266.88,94.54" fill="#fadb45"/><polygon points="288.39,88.31 295.60,83.97 288.39,84.41 281.20,88.83" fill="#fcc445"/><polygon points="302.83,83.90 310.07,79.98 302.83,79.98 295.60,83.97" fill="#feaf45"/><polygon points="346.45,75.77 353.75,73.20 346.45,71.95 339.16,74.59" fill="#fa7934"/><polygon points="361.05,74.78 368.35,72.68 361.05,71.04 353.75,73.20" fill="#f96c2a"/><polygon points="375.65,74.65 382.95,73.05 375.65,71.02 368.35,72.68" fill="#f9651f"/><polygon points="419.36,79.48 426.60,79.46 419.34,76.35 412.09,76.43" fill="#fb7700"/><polygon points="433.84,82.85 441.05,83.39 433.81,79.94 426.60,79.46" fill="#fd9000"/><polygon points="448.26,87.10 455.42,88.21 448.22,84.44 441.05,83.39" fill="#fbad00"/><polygon points="259.75,99.66 266.88,94.54 259.76,95.88 252.65,101.09" fill="#f0f046"/><polygon points="331.87,77.63 339.16,74.59 331.87,73.74 324.59,76.85" fill="#fb8a3e"/><polygon points="390.25,75.38 397.53,74.30 390.24,71.90 382.95,73.05" fill="#f96315"/><polygon points="462.61,92.24 469.71,93.94 462.54,89.85 455.42,88.21" fill="#f8cd00"/><polygon points="317.32,80.34 324.59,76.85 317.33,76.42 310.07,79.98" fill="#fd9c45"/><polygon points="404.82,76.99 412.09,76.43 404.81,73.67 397.53,74.30" fill="#fa690a"/><polygon points="353.75,77.28 361.05,74.78 353.75,73.20 346.45,75.77" fill="#f97432"/><polygon points="368.35,76.67 375.65,74.65 368.35,72.68 361.05,74.78" fill="#f96a28"/><polygon points="281.20,92.97 288.39,88.31 281.20,88.83 274.02,93.57" fill="#fbd045"/><polygon points="295.60,88.16 302.83,83.90 295.60,83.97 288.39,88.31" fill="#fdb945"/><polygon points="426.61,82.81 433.84,82.85 426.60,79.46 419.36,79.48" fill="#fc8100"/><polygon points="441.08,86.51 448.26,87.10 441.05,83.39 433.84,82.85" fill="#fc9b00"/><polygon points="266.87,98.61 274.02,93.57 266.88,94.54 259.75,99.66" fill="#f8e845"/><polygon points="339.16,78.74 346.45,75.77 339.16,74.59 331.87,77.63" fill="#fa833c"/><polygon points="382.95,76.92 390.25,75.38 382.95,73.05 375.65,74.65" fill="#f9651e"/><polygon points="455.47,91.08 462.61,92.24 455.42,88.21 448.26,87.10" fill="#fab900"/><polygon points="310.07,84.18 317.32,80.34 310.07,79.98 302.83,83.90" fill="#fea645"/><polygon points="324.59,81.04 331.87,77.63 324.59,76.85 317.32,80.34" fill="#fc9545"/><polygon points="397.54,78.02 404.82,76.99 397.53,74.30 390.25,75.38" fill="#f96613"/><polygon points="412.10,79.98 419.36,79.48 412.09,76.43 404.82,76.99" fill="#fa6f08"/><polygon points="252.64,105.08 259.75,99.66 252.65,101.09 245.57,106.59" fill="#def049"/><polygon points="469.77,96.53 476.86,98.28 469.71,93.94 462.61,92.24" fill="#f7db00"/><polygon points="361.05,79.12 368.35,76.67 361.05,74.78 353.75,77.28" fill="#f97130"/><polygon points="288.39,92.74 295.60,88.16 288.39,88.31 281.20,92.97" fill="#fcc545"/><polygon points="433.86,86.42 441.08,86.51 433.84,82.85 426.61,82.81" fill="#fd8c00"/><polygon points="245.56,110.75 252.64,105.08 245.57,106.59 238.51,112.36" fill="#caf04c"/><polygon points="274.02,97.93 281.20,92.97 274.02,93.57 266.87,98.61" fill="#fadb45"/><polygon points="346.45,80.18 353.75,77.28 346.45,75.77 339.16,78.74" fill="#fa7e3a"/><polygon points="375.65,78.88 382.95,76.92 375.65,74.65 368.35,76.67" fill="#f96926"/><polygon points="448.29,90.43 455.47,91.08 448.26,87.10 441.08,86.51" fill="#fba600"/><polygon points="476.92,101.06 483.98,102.86 476.86,98.28 469.77,96.53" fill="#f5e900"/><polygon points="302.83,88.37 310.07,84.18 302.83,83.90 295.60,88.16" fill="#fdb045"/><polygon points="317.33,84.81 324.59,81.04 317.32,80.34 310.07,84.18" fill="#fd9e45"/><polygon points="331.87,82.08 339.16,78.74 331.87,77.63 324.59,81.04" fill="#fb8e43"/><polygon points="390.25,79.50 397.54,78.02 390.25,75.38 382.95,76.92" fill="#fa671c"/><polygon points="404.82,80.95 412.10,79.98 404.82,76.99 397.54,78.02" fill="#fa6c11"/><polygon points="419.36,83.26 426.61,82.81 419.36,79.48 412.10,79.98" fill="#fb7707"/><polygon points="259.74,103.94 266.87,98.61 259.75,99.66 252.64,105.08" fill="#f1f046"/><polygon points="462.65,95.31 469.77,96.53 462.61,92.24 455.47,91.08" fill="#f9c600"/><polygon points="252.64,109.53 259.74,103.94 252.64,105.08 245.56,110.75" fill="#def049"/><polygon points="281.20,97.63 288.39,92.74 281.20,92.97 274.02,97.93" fill="#fbd045"/><polygon points="353.75,81.95 361.05,79.12 353.75,77.28 346.45,80.18" fill="#fa7a38"/><polygon points="368.35,81.26 375.65,78.88 368.35,76.67 361.05,79.12" fill="#f9712e"/><polygon points="441.09,90.29 448.29,90.43 441.08,86.51 433.86,86.42" fill="#fc9700"/><polygon points="469.81,99.79 476.92,101.06 469.77,96.53 462.65,95.31" fill="#f7d400"/><polygon points="295.61,92.87 302.83,88.37 295.60,88.16 288.39,92.74" fill="#fdbb45"/><polygon points="310.08,88.93 317.33,84.81 310.07,84.18 302.83,88.37" fill="#fea945"/><polygon points="324.60,85.79 331.87,82.08 324.59,81.04 317.33,84.81" fill="#fc9745"/><polygon points="339.16,83.46 346.45,80.18 339.16,78.74 331.87,82.08" fill="#fb8841"/><polygon points="382.95,81.40 390.25,79.50 382.95,76.92 375.65,78.88" fill="#f96b24"/><polygon points="397.54,82.37 404.82,80.95 397.54,78.02 390.25,79.50" fill="#fa6c1a"/><polygon points="412.10,84.17 419.36,83.26 412.10,79.98 404.82,80.95" fill="#fa720f"/><polygon points="426.62,86.81 433.86,86.42 426.61,82.81 419.36,83.26" fill="#fc8105"/><polygon points="238.50,116.67 245.56,110.75 238.51,112.36 231.48,118.37" fill="#a4ec4e"/><polygon points="266.88,103.18 274.02,97.93 266.87,98.61 259.74,103.94" fill="#f8e845"/><polygon points="455.49,94.62 462.65,95.31 455.47,91.08 448.29,90.43" fill="#fbb400"/><polygon points="484.04,105.82 491.08,107.67 483.98,102.86 476.92,101.06" fill="#e3eb03"/><polygon points="259.75,108.69 266.88,103.18 259.74,103.94 252.64,109.53" fill="#f0f046"/><polygon points="462.67,99.04 469.81,99.79 462.65,95.31 455.49,94.62" fill="#f9c200"/><polygon points="302.85,93.36 310.08,88.93 302.83,88.37 295.61,92.87" fill="#fdb345"/><polygon points="317.34,89.83 324.60,85.79 317.33,84.81 310.08,88.93" fill="#fda245"/><polygon points="331.88,87.10 339.16,83.46 331.87,82.08 324.60,85.79" fill="#fb9345"/><polygon points="346.45,85.17 353.75,81.95 346.45,80.18 339.16,83.46" fill="#fa853f"/><polygon points="375.65,83.72 382.95,81.40 375.65,78.88 368.35,81.26" fill="#f9712c"/><polygon points="390.24,84.22 397.54,82.37 390.25,79.50 382.95,81.40" fill="#fa6e22"/><polygon points="404.82,85.53 412.10,84.17 404.82,80.95 397.54,82.37" fill="#fa7218"/><polygon points="419.36,87.67 426.62,86.81 419.36,83.26 412.10,84.17" fill="#fb7c0e"/><polygon points="245.56,115.36 252.64,109.53 245.56,110.75 238.50,116.67" fill="#caf04c"/><polygon points="274.04,102.79 281.20,97.63 274.02,97.93 266.88,103.18" fill="#fadd45"/><polygon points="288.41,97.68 295.61,92.87 288.39,92.74 281.20,97.63" fill="#fcc745"/><polygon points="361.05,84.04 368.35,81.26 361.05,79.12 353.75,81.95" fill="#fa7936"/><polygon points="433.86,90.63 441.09,90.29 433.86,86.42 426.62,86.81" fill="#fd8d04"/><polygon points="448.30,94.42 455.49,94.62 448.29,90.43 441.09,90.29" fill="#fba400"/><polygon points="476.95,104.51 484.04,105.82 476.92,101.06 469.81,99.79" fill="#f6e300"/><polygon points="231.48,122.81 238.50,116.67 231.48,118.37 224.48,124.60" fill="#7be750"/><polygon points="491.14,110.81 498.16,112.71 491.08,107.67 484.04,105.82" fill="#ceeb07"/><polygon points="266.90,108.22 274.04,102.79 266.88,103.18 259.75,108.69" fill="#f8eb45"/><polygon points="455.49,98.80 462.67,99.04 455.49,94.62 448.30,94.42" fill="#fbb200"/><polygon points="310.10,94.20 317.34,89.83 310.08,88.93 302.85,93.36" fill="#fead45"/><polygon points="324.61,91.08 331.88,87.10 324.60,85.79 317.34,89.83" fill="#fc9c45"/><polygon points="339.17,88.74 346.45,85.17 339.16,83.46 331.88,87.10" fill="#fb9045"/><polygon points="382.94,86.48 390.24,84.22 382.95,81.40 375.65,83.72" fill="#fa742a"/><polygon points="397.53,87.33 404.82,85.53 397.54,82.37 390.24,84.22" fill="#fa7320"/><polygon points="412.09,88.98 419.36,87.67 412.10,84.17 404.82,85.53" fill="#fb7916"/><polygon points="224.48,129.16 231.48,122.81 224.48,124.60 217.51,131.04" fill="#63e353"/><polygon points="252.65,114.44 259.75,108.69 252.64,109.53 245.56,115.36" fill="#ddf049"/><polygon points="295.63,98.10 302.85,93.36 295.61,92.87 288.41,97.68" fill="#fcbe45"/><polygon points="426.61,91.43 433.86,90.63 426.62,86.81 419.36,87.67" fill="#fc860c"/><polygon points="469.83,103.71 476.95,104.51 469.81,99.79 462.67,99.04" fill="#f8d100"/><polygon points="498.22,116.02 505.22,117.97 498.16,112.71 491.14,110.81" fill="#b6eb0a"/><polygon points="353.75,87.19 361.05,84.04 353.75,81.95 346.45,85.17" fill="#fa833d"/><polygon points="368.35,86.44 375.65,83.72 368.35,81.26 361.05,84.04" fill="#fa7934"/><polygon points="238.51,121.42 245.56,115.36 238.50,116.67 231.48,122.81" fill="#a2ec4e"/><polygon points="281.23,102.77 288.41,97.68 281.20,97.63 274.04,102.79" fill="#fbd345"/><polygon points="441.08,94.71 448.30,94.42 441.09,90.29 433.86,90.63" fill="#fc9803"/><polygon points="484.07,109.45 491.14,110.81 484.04,105.82 476.95,104.51" fill="#eaeb02"/><polygon points="317.36,95.37 324.61,91.08 317.34,89.83 310.10,94.20" fill="#fea745"/><polygon points="331.89,92.65 339.17,88.74 331.88,87.10 324.61,91.08" fill="#fc9945"/><polygon points="390.23,89.53 397.53,87.33 390.24,84.22 382.94,86.48" fill="#fa7828"/><polygon points="404.80,90.72 412.09,88.98 404.82,85.53 397.53,87.33" fill="#fb7a1f"/><polygon points="231.49,127.67 238.51,121.42 231.48,122.81 224.48,129.16" fill="#79e750"/><polygon points="259.78,113.89 266.90,108.22 259.75,108.69 252.65,114.44" fill="#edf047"/><polygon points="274.06,108.12 281.23,102.77 274.04,102.79 266.90,108.22" fill="#f9e045"/><polygon points="302.87,98.86 310.10,94.20 302.85,93.36 295.63,98.10" fill="#fdb745"/><polygon points="419.35,92.69 426.61,91.43 419.36,87.67 412.09,88.98" fill="#fc8315"/><polygon points="448.29,99.04 455.49,98.80 448.30,94.42 441.08,94.71" fill="#fba602"/><polygon points="462.67,103.42 469.83,103.71 462.67,99.04 455.49,98.80" fill="#f9c100"/><polygon points="491.17,114.61 498.22,116.02 491.14,110.81 484.07,109.45" fill="#d4eb05"/><polygon points="346.46,90.70 353.75,87.19 346.45,85.17 339.17,88.74" fill="#fb8e43"/><polygon points="375.64,89.14 382.94,86.48 375.65,83.72 368.35,86.44" fill="#fa7b32"/><polygon points="245.58,120.41 252.65,114.44 245.56,115.36 238.51,121.42" fill="#c5f04c"/><polygon points="288.43,103.11 295.63,98.10 288.41,97.68 281.23,102.77" fill="#fbcb45"/><polygon points="361.05,89.53 368.35,86.44 361.05,84.04 353.75,87.19" fill="#fa833b"/><polygon points="433.85,95.46 441.08,94.71 433.86,90.63 426.61,91.43" fill="#fd920b"/><polygon points="476.97,108.61 484.07,109.45 476.95,104.51 469.83,103.71" fill="#f6e000"/><polygon points="324.63,96.88 331.89,92.65 324.61,91.08 317.36,95.37" fill="#fda445"/><polygon points="397.51,92.87 404.80,90.72 397.53,87.33 390.23,89.53" fill="#fb7e27"/><polygon points="238.53,126.57 245.58,120.41 238.51,121.42 231.49,127.67" fill="#9deb4e"/><polygon points="281.26,108.38 288.43,103.11 281.23,102.77 274.06,108.12" fill="#fbd845"/><polygon points="310.12,99.97 317.36,95.37 310.10,94.20 302.87,98.86" fill="#fdb245"/><polygon points="412.07,94.38 419.35,92.69 412.09,88.98 404.80,90.72" fill="#fb831d"/><polygon points="441.07,99.75 448.29,99.04 441.08,94.71 433.85,95.46" fill="#fc9e0a"/><polygon points="484.09,113.73 491.17,114.61 484.07,109.45 476.97,108.61" fill="#edeb01"/><polygon points="339.18,94.55 346.46,90.70 339.17,88.74 331.89,92.65" fill="#fc9745"/><polygon points="382.93,92.14 390.23,89.53 382.94,86.48 375.64,89.14" fill="#fb7f30"/><polygon points="252.68,119.77 259.78,113.89 252.65,114.44 245.58,120.41" fill="#d9f04a"/><polygon points="266.93,113.71 274.06,108.12 266.90,108.22 259.78,113.89" fill="#f8ee45"/><polygon points="295.66,103.80 302.87,98.86 295.63,98.10 288.43,103.11" fill="#fcc445"/><polygon points="353.75,92.98 361.05,89.53 353.75,87.19 346.46,90.70" fill="#fb8d42"/><polygon points="368.34,92.18 375.64,89.14 368.35,86.44 361.05,89.53" fill="#fb8439"/><polygon points="426.59,96.67 433.85,95.46 426.61,91.43 419.35,92.69" fill="#fd8e13"/><polygon points="455.48,103.61 462.67,103.42 455.49,98.80 448.29,99.04" fill="#fbb300"/><polygon points="469.83,108.27 476.97,108.61 469.83,103.71 462.67,103.42" fill="#f8d000"/><polygon points="245.61,125.85 252.68,119.77 245.58,120.41 238.53,126.57" fill="#beef4d"/><polygon points="288.47,109.00 295.66,103.80 288.43,103.11 281.26,108.38" fill="#fbd045"/><polygon points="317.38,101.41 324.63,96.88 317.36,95.37 310.12,99.97" fill="#feaf45"/><polygon points="404.78,96.49 412.07,94.38 404.80,90.72 397.51,92.87" fill="#fc8625"/><polygon points="433.82,100.91 441.07,99.75 433.85,95.46 426.59,96.67" fill="#fc9b12"/><polygon points="476.96,113.35 484.09,113.73 476.97,108.61 469.83,108.27" fill="#f6e100"/><polygon points="331.91,98.72 339.18,94.55 331.89,92.65 324.63,96.88" fill="#fda145"/><polygon points="390.22,95.42 397.51,92.87 390.23,89.53 382.93,92.14" fill="#fb832e"/><polygon points="274.10,113.90 281.26,108.38 274.06,108.12 266.93,113.71" fill="#f9e545"/><polygon points="302.90,104.84 310.12,99.97 302.87,98.86 295.66,103.80" fill="#fcbe45"/><polygon points="346.47,96.77 353.75,92.98 346.46,90.70 339.18,94.55" fill="#fc9745"/><polygon points="361.05,95.57 368.34,92.18 361.05,89.53 353.75,92.98" fill="#fb8e40"/><polygon points="375.63,95.12 382.93,92.14 375.64,89.14 368.34,92.18" fill="#fb8637"/><polygon points="419.32,98.31 426.59,96.67 419.35,92.69 412.07,94.38" fill="#fc8e1b"/><polygon points="448.27,104.28 455.48,103.61 448.29,99.04 441.07,99.75" fill="#fbac08"/><polygon points="259.81,119.51 266.93,113.71 259.78,113.89 252.68,119.77" fill="#e8f048"/><polygon points="462.65,108.42 469.83,108.27 462.67,103.42 455.48,103.61" fill="#f9c300"/><polygon points="295.69,109.97 302.90,104.84 295.66,103.80 288.47,109.00" fill="#fbca45"/><polygon points="426.56,102.50 433.82,100.91 426.59,96.67 419.32,98.31" fill="#fd991a"/><polygon points="252.72,125.51 259.81,119.51 252.68,119.77 245.61,125.85" fill="#d4f04b"/><polygon points="281.29,114.44 288.47,109.00 281.26,108.38 274.10,113.90" fill="#fadd45"/><polygon points="310.15,106.22 317.38,101.41 310.12,99.97 302.90,104.84" fill="#fdba45"/><polygon points="324.65,103.18 331.91,98.72 324.63,96.88 317.38,101.41" fill="#feac45"/><polygon points="339.19,100.88 346.47,96.77 339.18,94.55 331.91,98.72" fill="#fda045"/><polygon points="353.76,99.30 361.05,95.57 353.75,92.98 346.47,96.77" fill="#fc9845"/><polygon points="368.34,98.45 375.63,95.12 368.34,92.18 361.05,95.57" fill="#fc903e"/><polygon points="382.92,98.35 390.22,95.42 382.93,92.14 375.63,95.12" fill="#fc8b35"/><polygon points="397.49,98.99 404.78,96.49 397.51,92.87 390.22,95.42" fill="#fc8a2c"/><polygon points="412.04,100.37 419.32,98.31 412.07,94.38 404.78,96.49" fill="#fc8f23"/><polygon points="441.04,105.39 448.27,104.28 441.07,99.75 433.82,100.91" fill="#fca610"/><polygon points="469.80,113.45 476.96,113.35 469.83,108.27 462.65,108.42" fill="#f8d300"/><polygon points="266.97,119.62 274.10,113.90 266.93,113.71 259.81,119.51" fill="#f4f046"/><polygon points="455.45,109.04 462.65,108.42 455.48,103.61 448.27,104.28" fill="#faba07"/><polygon points="302.93,111.28 310.15,106.22 302.90,104.84 295.69,109.97" fill="#fcc545"/><polygon points="419.29,104.51 426.56,102.50 419.32,98.31 412.04,100.37" fill="#fd9a21"/><polygon points="259.86,125.54 266.97,119.62 259.81,119.51 252.72,125.51" fill="#e0f049"/><polygon points="288.51,115.34 295.69,109.97 288.47,109.00 281.29,114.44" fill="#fbd745"/><polygon points="346.48,103.35 353.76,99.30 346.47,96.77 339.19,100.88" fill="#fda145"/><polygon points="361.05,102.13 368.34,98.45 361.05,95.57 353.76,99.30" fill="#fc9a44"/><polygon points="375.62,101.63 382.92,98.35 375.63,95.12 368.34,98.45" fill="#fc943c"/><polygon points="433.79,106.94 441.04,105.39 433.82,100.91 426.56,102.50" fill="#fca518"/><polygon points="462.62,114.03 469.80,113.45 462.65,108.42 455.45,109.04" fill="#f9c906"/><polygon points="331.93,105.28 339.19,100.88 331.91,98.72 324.65,103.18" fill="#feab45"/><polygon points="390.20,101.86 397.49,98.99 390.22,95.42 382.92,98.35" fill="#fc9233"/><polygon points="274.14,120.09 281.29,114.44 274.10,113.90 266.97,119.62" fill="#f8eb45"/><polygon points="317.41,107.93 324.65,103.18 317.38,101.41 310.15,106.22" fill="#fdb745"/><polygon points="404.76,102.82 412.04,100.37 404.78,96.49 397.49,98.99" fill="#fc932a"/><polygon points="448.23,110.11 455.45,109.04 448.27,104.28 441.04,105.39" fill="#fbb40f"/><polygon points="267.02,125.94 274.14,120.09 266.97,119.62 259.86,125.54" fill="#ecf047"/><polygon points="295.73,116.58 302.93,111.28 295.69,109.97 288.51,115.34" fill="#fbd245"/><polygon points="310.18,112.92 317.41,107.93 310.15,106.22 302.93,111.28" fill="#fcc245"/><polygon points="339.21,107.69 346.48,103.35 339.19,100.88 331.93,105.28" fill="#feab45"/><polygon points="353.76,106.12 361.05,102.13 353.76,99.30 346.48,103.35" fill="#fda445"/><polygon points="368.33,105.25 375.62,101.63 368.34,98.45 361.05,102.13" fill="#fd9e42"/><polygon points="382.90,105.10 390.20,101.86 382.92,98.35 375.62,101.63" fill="#fd993a"/><polygon points="412.01,106.92 419.29,104.51 412.04,100.37 404.76,102.82" fill="#fd9e29"/><polygon points="426.52,108.91 433.79,106.94 426.56,102.50 419.29,104.51" fill="#fca520"/><polygon points="455.41,115.06 462.62,114.03 455.45,109.04 448.23,110.11" fill="#fac20e"/><polygon points="281.34,120.92 288.51,115.34 281.29,114.44 274.14,120.09" fill="#f9e545"/><polygon points="440.99,111.62 448.23,110.11 441.04,105.39 433.79,106.94" fill="#fbb117"/><polygon points="324.68,109.96 331.93,105.28 324.65,103.18 317.41,107.93" fill="#fdb545"/><polygon points="397.47,105.65 404.76,102.82 397.49,98.99 390.20,101.86" fill="#fd9931"/><polygon points="274.20,126.69 281.34,120.92 274.14,120.09 267.02,125.94" fill="#f5f046"/><polygon points="361.05,109.19 368.33,105.25 361.05,102.13 353.76,106.12" fill="#fea745"/><polygon points="448.18,116.53 455.41,115.06 448.23,110.11 440.99,111.62" fill="#fabf15"/><polygon points="288.56,122.09 295.73,116.58 288.51,115.34 281.34,120.92" fill="#fadf45"/><polygon points="302.97,118.15 310.18,112.92 302.93,111.28 295.73,116.58" fill="#fbcf45"/><polygon points="317.44,114.89 324.68,109.96 317.41,107.93 310.18,112.92" fill="#fcc045"/><polygon points="331.95,112.31 339.21,107.69 331.93,105.28 324.68,109.96" fill="#fdb545"/><polygon points="346.49,110.41 353.76,106.12 346.48,103.35 339.21,107.69" fill="#fead45"/><polygon points="375.61,108.67 382.90,105.10 375.62,101.63 368.33,105.25" fill="#fda340"/><polygon points="390.17,108.83 397.47,105.65 390.20,101.86 382.90,105.10" fill="#fda038"/><polygon points="404.72,109.70 412.01,106.92 404.76,102.82 397.47,105.65" fill="#fda130"/><polygon points="419.25,111.27 426.52,108.91 419.29,104.51 412.01,106.92" fill="#fca727"/><polygon points="433.74,113.54 440.99,111.62 433.79,106.94 426.52,108.91" fill="#fbb11e"/><polygon points="281.40,127.78 288.56,122.09 281.34,120.92 274.20,126.69" fill="#f8ed45"/><polygon points="324.71,117.18 331.95,112.31 324.68,109.96 317.44,114.89" fill="#fcbf45"/><polygon points="353.77,113.42 361.05,109.19 353.76,106.12 346.49,110.41" fill="#feaf45"/><polygon points="368.33,112.55 375.61,108.67 368.33,105.25 361.05,109.19" fill="#feac45"/><polygon points="397.44,112.84 404.72,109.70 397.47,105.65 390.17,108.83" fill="#fda736"/><polygon points="440.94,118.41 448.18,116.53 440.99,111.62 433.74,113.54" fill="#fbbd1d"/><polygon points="295.78,123.60 302.97,118.15 295.73,116.58 288.56,122.09" fill="#fadb45"/><polygon points="310.22,120.06 317.44,114.89 310.18,112.92 302.97,118.15" fill="#fbcd45"/><polygon points="339.23,114.97 346.49,110.41 339.21,107.69 331.95,112.31" fill="#fdb645"/><polygon points="382.89,112.35 390.17,108.83 382.90,105.10 375.61,108.67" fill="#fda93e"/><polygon points="411.97,114.00 419.25,111.27 412.01,106.92 404.72,109.70" fill="#fdaa2e"/><polygon points="426.47,115.86 433.74,113.54 426.52,108.91 419.25,111.27" fill="#fcb125"/><polygon points="288.61,129.22 295.78,123.60 288.56,122.09 281.40,127.78" fill="#f8e845"/><polygon points="317.48,122.29 324.71,117.18 317.44,114.89 310.22,120.06" fill="#fbcb45"/><polygon points="331.98,119.79 339.23,114.97 331.95,112.31 324.71,117.18" fill="#fcc045"/><polygon points="346.50,117.93 353.77,113.42 346.49,110.41 339.23,114.97" fill="#fdb845"/><polygon points="361.05,116.73 368.33,112.55 361.05,109.19 353.77,113.42" fill="#fdb345"/><polygon points="375.60,116.19 382.89,112.35 375.61,108.67 368.33,112.55" fill="#fdb043"/><polygon points="390.15,116.31 397.44,112.84 390.17,108.83 382.89,112.35" fill="#fdaf3c"/><polygon points="404.69,117.10 411.97,114.00 404.72,109.70 397.44,112.84" fill="#fdaf34"/><polygon points="433.68,120.69 440.94,118.41 433.74,113.54 426.47,115.86" fill="#fcbe24"/><polygon points="303.02,125.44 310.22,120.06 302.97,118.15 295.78,123.60" fill="#fad845"/><polygon points="419.20,118.56 426.47,115.86 419.25,111.27 411.97,114.00" fill="#fcb52c"/><polygon points="339.25,122.69 346.50,117.93 339.23,114.97 331.98,119.79" fill="#fcc245"/><polygon points="382.86,120.10 390.15,116.31 382.89,112.35 375.60,116.19" fill="#fdb641"/><polygon points="295.84,131.00 303.02,125.44 295.78,123.60 288.61,129.22" fill="#f9e545"/><polygon points="310.27,127.60 317.48,122.29 310.22,120.06 303.02,125.44" fill="#fbd745"/><polygon points="324.74,124.83 331.98,119.79 324.71,117.18 317.48,122.29" fill="#fbcb45"/><polygon points="353.78,121.19 361.05,116.73 353.77,113.42 346.50,117.93" fill="#fdbc45"/><polygon points="368.32,120.32 375.60,116.19 368.33,112.55 361.05,116.73" fill="#fdb845"/><polygon points="397.40,120.53 404.69,117.10 397.44,112.84 390.15,116.31" fill="#fdb63a"/><polygon points="411.92,121.61 419.20,118.56 411.97,114.00 404.69,117.10" fill="#fcb932"/><polygon points="426.42,123.34 433.68,120.69 426.47,115.86 419.20,118.56" fill="#fcc02a"/><polygon points="303.07,133.10 310.27,127.60 303.02,125.44 295.84,131.00" fill="#f9e345"/><polygon points="332.01,127.68 339.25,122.69 331.98,119.79 324.74,124.83" fill="#fbcd45"/><polygon points="346.52,125.89 353.78,121.19 346.50,117.93 339.25,122.69" fill="#fcc545"/><polygon points="375.58,124.18 382.86,120.10 375.60,116.19 368.32,120.32" fill="#fcbe45"/><polygon points="390.12,124.27 397.40,120.53 390.15,116.31 382.86,120.10" fill="#fcbd3f"/><polygon points="419.14,126.35 426.42,123.34 419.20,118.56 411.92,121.61" fill="#fbc431"/><polygon points="317.52,130.08 324.74,124.83 317.48,122.29 310.27,127.60" fill="#fbd745"/><polygon points="361.05,124.72 368.32,120.32 361.05,116.73 353.78,121.19" fill="#fcc045"/><polygon points="404.64,124.99 411.92,121.61 404.69,117.10 397.40,120.53" fill="#fcbe38"/><polygon points="310.32,135.52 317.52,130.08 310.27,127.60 303.07,133.10" fill="#f9e345"/><polygon points="324.78,132.87 332.01,127.68 324.74,124.83 317.52,130.08" fill="#fbd845"/><polygon points="339.27,130.82 346.52,125.89 339.25,122.69 332.01,127.68" fill="#fbd045"/><polygon points="353.79,129.38 361.05,124.72 353.78,121.19 346.52,125.89" fill="#fbc945"/><polygon points="368.31,128.53 375.58,124.18 368.32,120.32 361.05,124.72" fill="#fcc645"/><polygon points="382.84,128.31 390.12,124.27 382.86,120.10 375.58,124.18" fill="#fcc544"/><polygon points="397.36,128.69 404.64,124.99 397.40,120.53 390.12,124.27" fill="#fcc53d"/><polygon points="411.87,129.70 419.14,126.35 411.92,121.61 404.64,124.99" fill="#fbc936"/><polygon points="317.57,138.25 324.78,132.87 317.52,130.08 310.32,135.52" fill="#f9e345"/><polygon points="361.05,133.14 368.31,128.53 361.05,124.72 353.79,129.38" fill="#fbce45"/><polygon points="404.59,133.36 411.87,129.70 404.64,124.99 397.36,128.69" fill="#fbce3c"/><polygon points="332.04,135.96 339.27,130.82 332.01,127.68 324.78,132.87" fill="#fada45"/><polygon points="346.53,134.25 353.79,129.38 346.52,125.89 339.27,130.82" fill="#fbd245"/><polygon points="375.57,132.61 382.84,128.31 375.58,124.18 368.31,128.53" fill="#fbcd45"/><polygon points="390.09,132.68 397.36,128.69 390.12,124.27 382.84,128.31" fill="#fbcd42"/><polygon points="324.82,141.28 332.04,135.96 324.78,132.87 317.57,138.25" fill="#f9e545"/><polygon points="353.79,137.97 361.05,133.14 353.79,129.38 346.53,134.25" fill="#fbd845"/><polygon points="368.30,137.17 375.57,132.61 368.31,128.53 361.05,133.14" fill="#fbd445"/><polygon points="397.32,137.31 404.59,133.36 397.36,128.69 390.09,132.68" fill="#fbd440"/><polygon points="339.30,139.34 346.53,134.25 339.27,130.82 332.04,135.96" fill="#fadd45"/><polygon points="382.82,136.95 390.09,132.68 382.84,128.31 375.57,132.61" fill="#fbd445"/><polygon points="332.07,144.60 339.30,139.34 332.04,135.96 324.82,141.28" fill="#f8e845"/><polygon points="346.55,143.00 353.79,137.97 346.53,134.25 339.30,139.34" fill="#f9e145"/><polygon points="361.05,141.95 368.30,137.17 361.05,133.14 353.79,137.97" fill="#fadd45"/><polygon points="375.55,141.46 382.82,136.95 375.57,132.61 368.30,137.17" fill="#fadb45"/><polygon points="390.05,141.53 397.32,137.31 390.09,132.68 382.82,136.95" fill="#fadc45"/><polygon points="339.32,148.21 346.55,143.00 339.30,139.34 332.07,144.60" fill="#f8eb45"/><polygon points="382.79,145.99 390.05,141.53 382.82,136.95 375.55,141.46" fill="#f9e345"/><polygon points="353.80,146.93 361.05,141.95 353.79,137.97 346.55,143.00" fill="#f9e645"/><polygon points="368.29,146.19 375.55,141.46 368.30,137.17 361.05,141.95" fill="#f9e345"/><polygon points="346.57,152.09 353.80,146.93 346.55,143.00 339.32,148.21" fill="#f8f045"/><polygon points="375.53,150.68 382.79,145.99 375.55,141.46 368.29,146.19" fill="#f8eb45"/><polygon points="361.05,151.13 368.29,146.19 361.05,141.95 353.80,146.93" fill="#f8ec45"/><polygon points="353.81,156.24 361.05,151.13 353.80,146.93 346.57,152.09" fill="#f1f046"/><polygon points="368.28,155.57 375.53,150.68 368.29,146.19 361.05,151.13" fill="#f5f046"/><polygon points="361.05,160.64 368.28,155.57 361.05,151.13 353.81,156.24" fill="#e9f047"/></g>
<circle cx="361.0" cy="80.4" r="2.5" fill="#e00000" stroke="#500" stroke-width="0.9"/><circle cx="360.8" cy="155.1" r="2.7" fill="#e00000" stroke="#500" stroke-width="0.9"/><circle cx="505.2" cy="117.7" r="2.9" fill="#e80000" stroke="#300" stroke-width="0.9"/><circle cx="218.0" cy="133.5" r="3.0" fill="#ffcccc" stroke="#633" stroke-width="0.9"/>
<text x="206.7" y="68.5" text-anchor="end" font-family="Liberation Serif, serif" font-size="13" fill="#000">100</text><text x="209" y="96.9" text-anchor="end" font-family="Liberation Serif, serif" font-size="13" fill="#000">80</text><text x="210.2" y="125.5" text-anchor="end" font-family="Liberation Serif, serif" font-size="13" fill="#000">60</text><text x="212.7" y="155.4" text-anchor="end" font-family="Liberation Serif, serif" font-size="13" fill="#000">40</text><text x="213.5" y="183.4" text-anchor="end" font-family="Liberation Serif, serif" font-size="13" fill="#000">20</text><text x="214" y="211.7" text-anchor="end" font-family="Liberation Serif, serif" font-size="13" fill="#000">0</text><text x="211.1" y="272.1" text-anchor="middle" font-family="Liberation Serif, serif" font-size="13" fill="#000">10</text><text x="228.4" y="279.3" text-anchor="middle" font-family="Liberation Serif, serif" font-size="13" fill="#000">9</text><text x="243.8" y="286.8" text-anchor="middle" font-family="Liberation Serif, serif" font-size="13" fill="#000">8</text><text x="258.5" y="294.0" text-anchor="middle" font-family="Liberation Serif, serif" font-size="13" fill="#000">7</text><text x="274.2" y="301.5" text-anchor="middle" font-family="Liberation Serif, serif" font-size="13" fill="#000">6</text><text x="289.6" y="308.1" text-anchor="middle" font-family="Liberation Serif, serif" font-size="13" fill="#000">5</text><text x="304.3" y="315.3" text-anchor="middle" font-family="Liberation Serif, serif" font-size="13" fill="#000">4</text><text x="320" y="322.8" text-anchor="middle" font-family="Liberation Serif, serif" font-size="13" fill="#000">3</text><text x="335.4" y="330.3" text-anchor="middle" font-family="Liberation Serif, serif" font-size="13" fill="#000">2</text><text x="350.2" y="337.5" text-anchor="middle" font-family="Liberation Serif, serif" font-size="13" fill="#000">1</text><text x="512" y="270.6" text-anchor="middle" font-family="Liberation Serif, serif" font-size="13" fill="#000">2.5</text><text x="488.5" y="285.1" text-anchor="middle" font-family="Liberation Serif, serif" font-size="13" fill="#000">2.05</text><text x="458.4" y="298.2" text-anchor="middle" font-family="Liberation Serif, serif" font-size="13" fill="#000">1.6</text><text x="433.6" y="310.3" text-anchor="middle" font-family="Liberation Serif, serif" font-size="13" fill="#000">1.15</text><text x="404.2" y="324.1" text-anchor="middle" font-family="Liberation Serif, serif" font-size="13" fill="#000">0.7</text><text x="379" y="336.9" text-anchor="middle" font-family="Liberation Serif, serif" font-size="13" fill="#000">0.25</text><text x="188.2" y="320.8" font-family="Liberation Serif, serif" font-size="10.5" fill="#000" textLength="103.1" lengthAdjust="spacingAndGlyphs">B: Treatment time (min)</text><text x="422.2" y="320.7" font-family="Liberation Serif, serif" font-size="10.5" fill="#000" textLength="120.8" lengthAdjust="spacingAndGlyphs">A: Current density (mA/cm²)</text><text transform="translate(173.3,225.6) rotate(-90)" font-family="Liberation Serif, serif" font-size="10.5" fill="#000" textLength="114.5" lengthAdjust="spacingAndGlyphs">Disinfection efficiency (%)</text><text x="7.6" y="13.9" font-family="Liberation Sans, sans-serif" font-size="10.2" font-weight="bold" fill="#000" textLength="136.4" lengthAdjust="spacingAndGlyphs">Disinfection efficiency ((%))</text><text x="7.6" y="28.9" font-family="Liberation Sans, sans-serif" font-size="10.2" fill="#222" textLength="65.5" lengthAdjust="spacingAndGlyphs">Design Points:</text><circle cx="16.7" cy="41.6" r="5.4" fill="#cc0000" stroke="#2a0000" stroke-width="1.2"/><text x="28.2" y="44.9" font-family="Liberation Sans, sans-serif" font-size="10.2" fill="#e8282d" textLength="66.3" lengthAdjust="spacingAndGlyphs">Above Surface</text><circle cx="16.7" cy="57.3" r="5.4" fill="#ffcccc" stroke="#333" stroke-width="1.2"/><text x="28.2" y="60.9" font-family="Liberation Sans, sans-serif" font-size="10.2" fill="#e8282d" textLength="63.6" lengthAdjust="spacingAndGlyphs">Below Surface</text><text x="7.3" y="77" font-family="Liberation Sans, sans-serif" font-size="10.2" fill="#3333ff">0</text><defs><linearGradient id="cb" x1="0" x2="1" y1="0" y2="0"><stop offset="0" stop-color="#0000ff"/><stop offset="0.5" stop-color="#00ff00"/><stop offset="1" stop-color="#ff0000"/></linearGradient></defs><rect x="27.8" y="67.2" width="35.3" height="12.7" fill="url(#cb)" stroke="#222" stroke-width="1"/><text x="68.7" y="77" font-family="Liberation Sans, sans-serif" font-size="10.2" fill="#e8282d" textLength="15.8" lengthAdjust="spacingAndGlyphs">100</text><text x="7.3" y="109.2" font-family="Liberation Sans, sans-serif" font-size="10.2" fill="#222" textLength="107.6" lengthAdjust="spacingAndGlyphs">X1 = A: Current density</text><text x="7.3" y="125" font-family="Liberation Sans, sans-serif" font-size="10.2" fill="#222" textLength="106.2" lengthAdjust="spacingAndGlyphs">X2 = B: Treatment time</text><text x="7.3" y="156.9" font-family="Liberation Sans, sans-serif" font-size="10.2" font-weight="bold" fill="#000" textLength="64.8" lengthAdjust="spacingAndGlyphs">Actual Factor</text><text x="7.3" y="172.9" font-family="Liberation Sans, sans-serif" font-size="10.2" fill="#222" textLength="145.4" lengthAdjust="spacingAndGlyphs">C: Inter-electrode spacing = 1.5</text>
</svg></body></html>
